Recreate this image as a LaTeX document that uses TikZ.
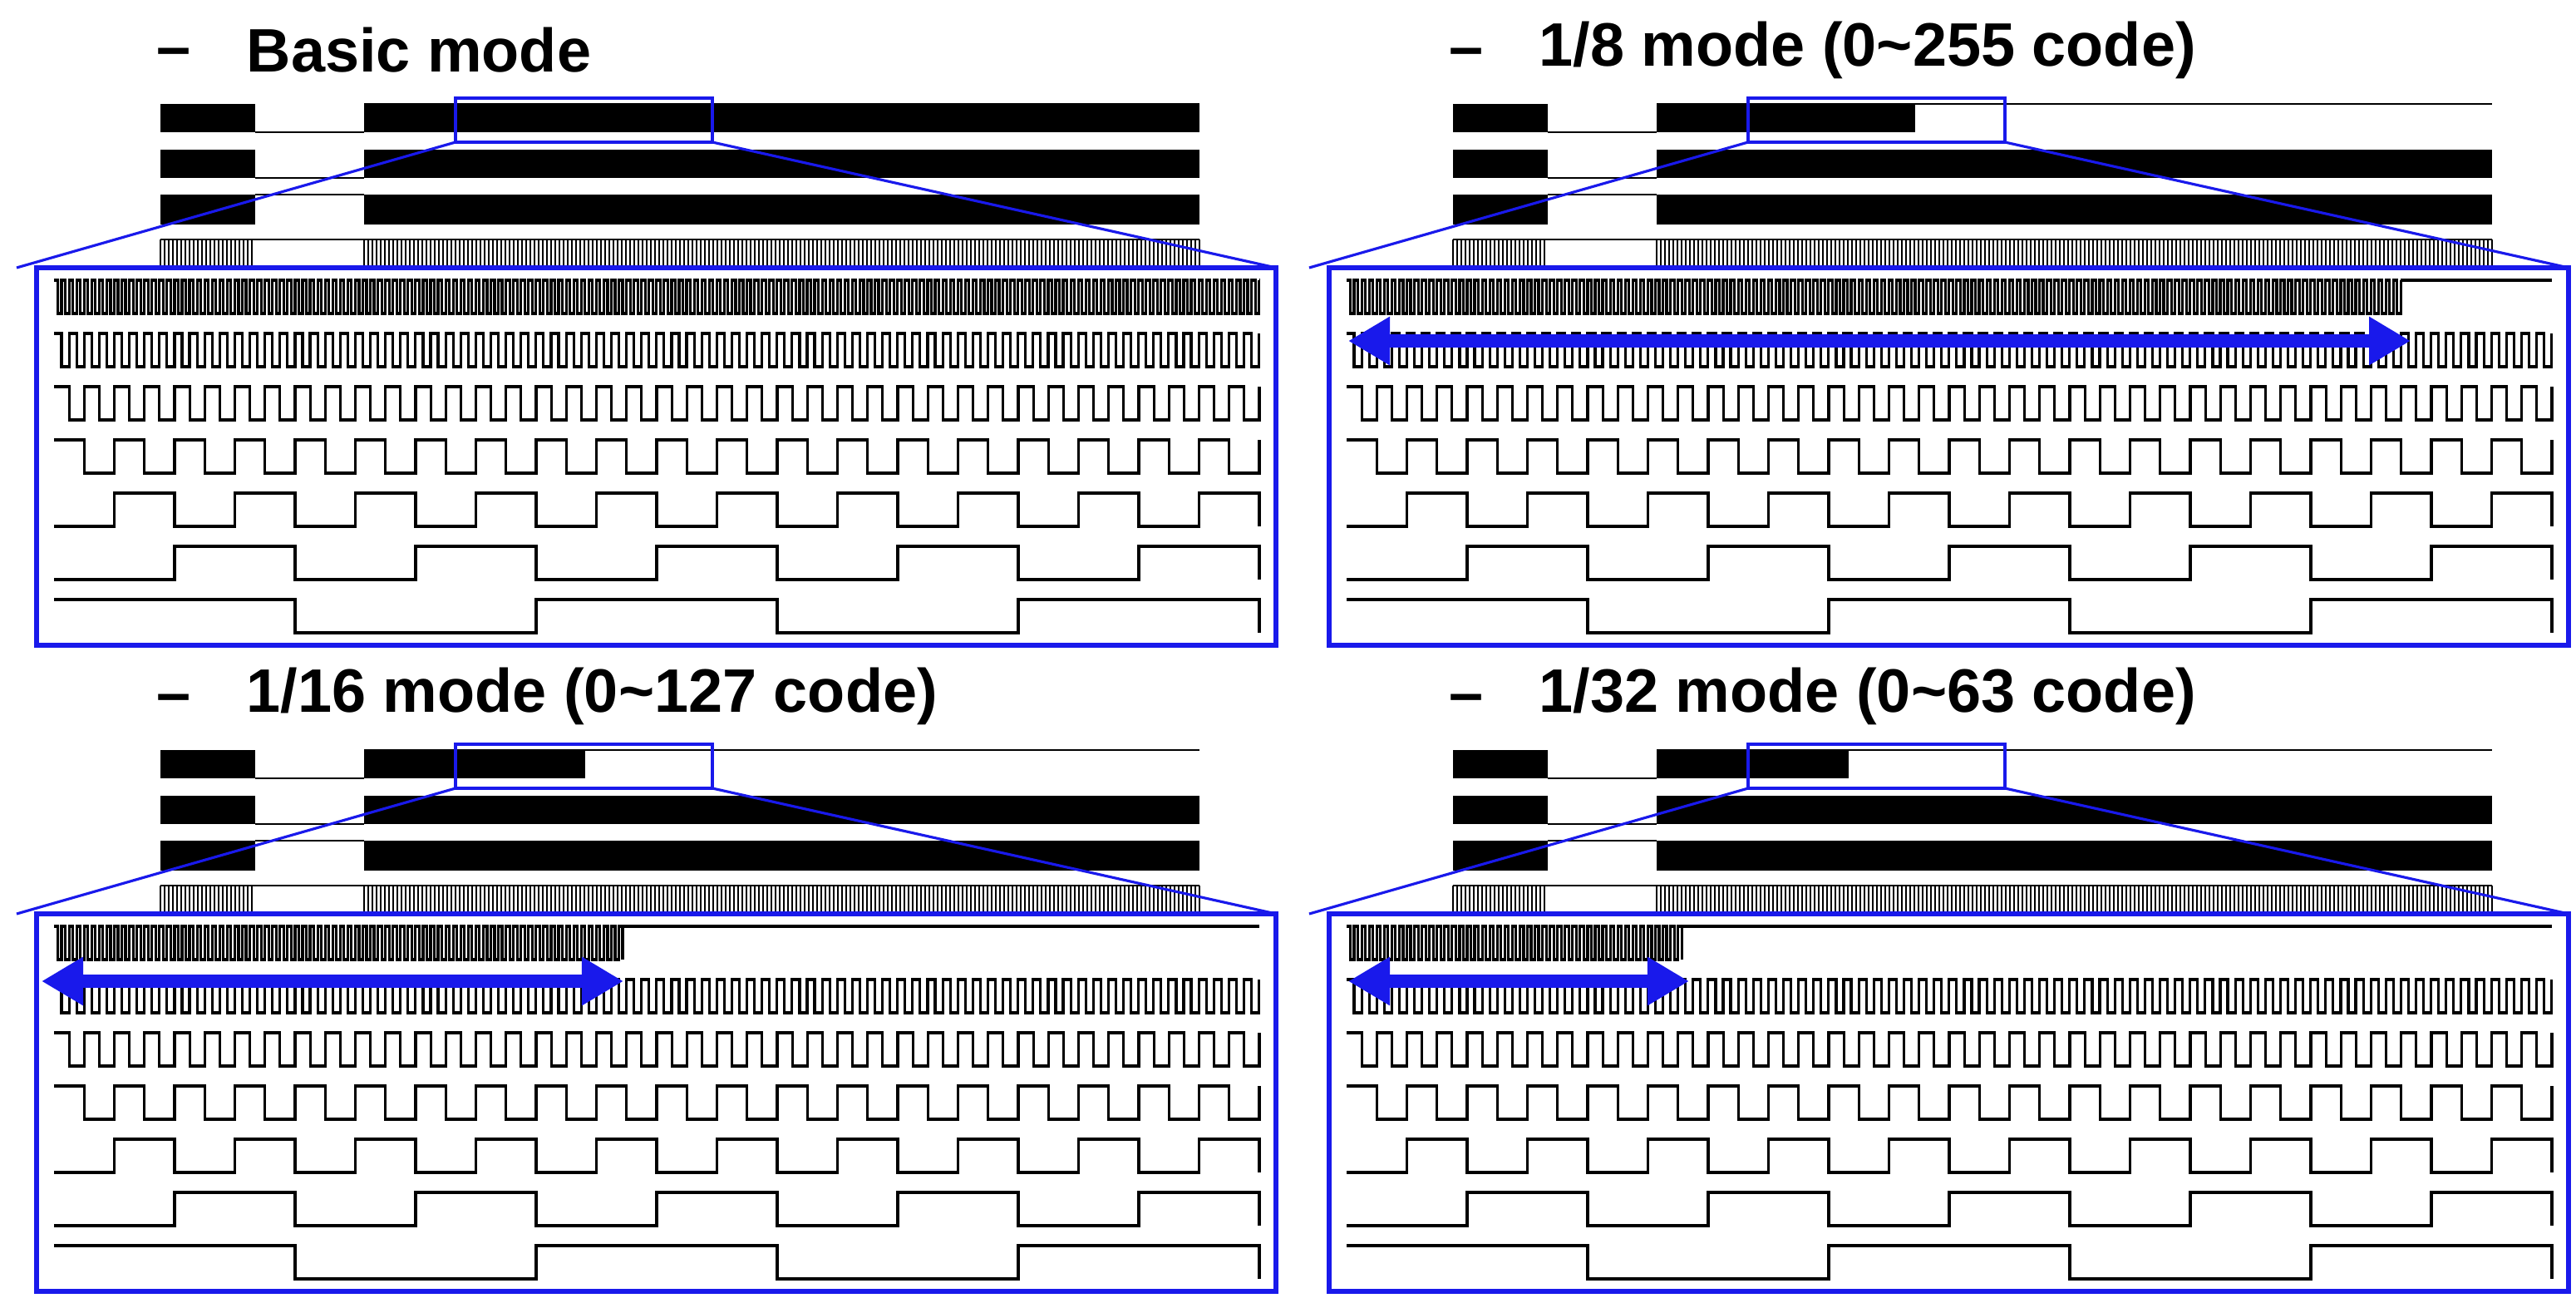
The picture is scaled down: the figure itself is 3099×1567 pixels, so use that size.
\documentclass[tikz,border=0pt]{standalone}
\usepackage{fontspec}
\setmainfont{Liberation Sans}
\usetikzlibrary{arrows.meta}
\definecolor{bl}{RGB}{25,25,235}
\tikzset{
  wave/.style={line width=0.9pt,black,line join=miter},
  frame/.style={draw=bl,line width=1.8pt},
  zoomrect/.style={draw=bl,line width=1.3pt},
  funnel/.style={draw=bl,line width=0.9pt},
  thinl/.style={line width=0.5pt,black},
  ttl/.style={font=\fontsize{21}{24}\selectfont\bfseries,anchor=west,inner sep=0pt},
  darr/.style={bl,line width=4.5pt,{Triangle[length=0.5cm,width=0.55cm]}-{Triangle[length=0.5cm,width=0.55cm]}}
}
\newcommand\wv[5]{\draw[wave] (#1,{#2+40*mod(#5,2)}) \foreach \j [evaluate=\j as \ya using {#2+40*mod(\j-1+#5,2)}, evaluate=\j as \yb using {#2+40*mod(\j+#5,2)}] in {1,...,#4} { -- ({#1+\j*#3},\ya) -- ({#1+\j*#3},\yb) };}
\newcommand\panel[3]{%
  \node[ttl] (dash) at (188,70) {–};
  \node[ttl] (title) at (296,60) {#1};
  % small rows
  \fill (193,125) rectangle (307,159); \draw[thinl] (307,159) -- (438,159);
  \draw[thinl] (438,125) -- (1443,125); \fill (438,125) rectangle (#2,159);
  \fill (193,180) rectangle (307,214); \draw[thinl] (307,214) -- (438,214); \fill (438,180) rectangle (1443,214);
  \fill (193,234) rectangle (307,270); \draw[thinl] (307,234) -- (438,234); \fill (438,234) rectangle (1443,270);
  \foreach \x in {193,198,...,307} {\draw[thinl] (\x,288) -- (\x,321);}
  \foreach \x in {438,443,...,1443} {\draw[thinl] (\x,288) -- (\x,321);}
  \draw[thinl] (193,288) -- (1443,288); \draw[thinl] (193,321) -- (307,321); \draw[thinl] (438,321) -- (1443,321);
  % zoom
  \draw[zoomrect] (548,118) rectangle (857,171);
  \draw[funnel] (548,171) -- (20,322);
  \draw[funnel] (857,171) -- (1535,322);
  \fill[white] (44,322) rectangle (1535,776);
  \wv{65}{337}{4.53}{#3}{0}
  \draw[wave] ({65+#3*4.53},337) -- (1515,337);
  \wv{65}{401}{9.06}{160}{0}
  \wv{65}{465}{18.125}{80}{0}
  \wv{65}{529}{36.25}{40}{0}
  \wv{65}{593}{72.5}{20}{1}
  \wv{65}{657}{145}{10}{1}
  \wv{65}{721}{290}{5}{0}
  \draw[frame] (44,322) rectangle (1535,776);
}
\begin{document}
\begin{tikzpicture}[x=0.01cm,y=-0.01cm]
\useasboundingbox (0,0) rectangle (3099,1567);
\begin{scope}\panel{Basic mode}{1443}{320}\end{scope}
\begin{scope}[shift={(1555,0)}]\panel{1/8 mode (0\textasciitilde 255 code)}{749}{280}\end{scope}
\begin{scope}[shift={(0,777)}]\panel{1/16 mode (0\textasciitilde 127 code)}{704}{151}\end{scope}
\begin{scope}[shift={(1555,777)}]\panel{1/32 mode (0\textasciitilde 63 code)}{669}{89}\end{scope}
\coordinate (a1) at (1622,410); \coordinate (a2) at (2900,410);
\coordinate (b1) at (50,1180); \coordinate (b2) at (750,1180);
\coordinate (c1) at (1622,1180); \coordinate (c2) at (2032,1180);
\draw[darr] (a1) -- (a2);
\draw[darr] (b1) -- (b2);
\draw[darr] (c1) -- (c2);
\end{tikzpicture}
\end{document}
